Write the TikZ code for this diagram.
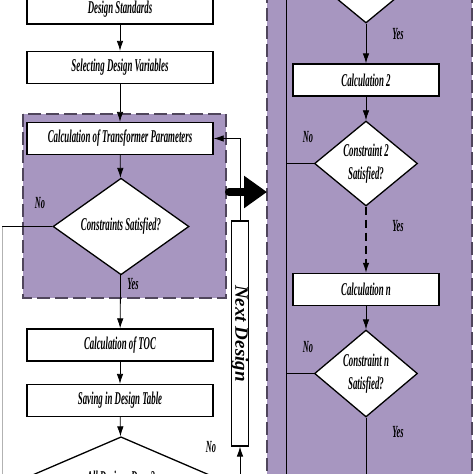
\documentclass[tikz,border=0pt]{standalone}
\usepackage{fontspec}
\setmainfont{Liberation Serif}[FakeStretch=0.49]
\newfontfamily\widefont{Liberation Serif}
\usetikzlibrary{shapes.geometric,arrows.meta,positioning,calc}
\definecolor{regpurple}{RGB}{167,150,192}
\definecolor{regborder}{RGB}{80,70,92}

\tikzset{
  procbox/.style={rectangle, draw, fill=white, line width=1.3pt, minimum width=186pt, minimum height=32pt, inner sep=0pt, font=\fontsize{18}{21}\selectfont\bfseries\itshape},
  check/.style={diamond, draw, fill=white, line width=1.3pt, inner sep=0pt, align=center, font=\fontsize{18}{23}\selectfont\bfseries\itshape},
  flow/.style={-{Latex[length=10pt,width=6.5pt]}, line width=0.8pt},
  lbl/.style={font=\fontsize{17}{20}\selectfont\bfseries\itshape},
  regline/.style={draw=regborder, line width=1.6pt, dash pattern=on 13pt off 5pt}
}

\begin{document}
\begin{tikzpicture}[x=1pt, y=-1pt]
\clip (0,0) rectangle (474,474);
\fill[white] (0,0) rectangle (474,474);

% regioni
\fill[regpurple] (23,114) rectangle (226,298);
\draw[regline] (23,114) rectangle (226,298);
\fill[regpurple] (267,-10) rectangle (472,484);
\draw[regline] (267,-10) -- (267,484) (472,-10) -- (472,484);

% colonna sinistra
\node[procbox, minimum height=30pt] (std) at (120,9) {Design Standards};
\node[procbox] (selvar) at (120,67.5) {Selecting Design Variables};
\node[procbox] (calctp) at (120,138.5) {Calculation of Transformer Parameters};
\node[check, minimum width=136pt, minimum height=87pt] (cons) at (121,226.5) {Constraints Satisfied?};
\node[procbox] (toc) at (120,345) {Calculation of TOC};
\node[procbox] (save) at (120,400.5) {Saving in Design Table};
\node[check, minimum width=196pt, minimum height=82pt] (done) at (121,479) {All Designs Done?};

\draw[flow] (std) -- (selvar);
\draw[flow] (selvar) -- (calctp);
\draw[flow] (calctp) -- (cons);
\draw[flow] (cons) -- (toc);
\draw[flow] (toc) -- (save);
\draw[flow] (save) -- (done);

\node[lbl] (yes0) at (133,284) {Yes};
\node[lbl] (no0) at (40,203) {No};
\node[lbl] (no9) at (211,447) {No};

\coordinate (noleft) at (2,226.5);
\coordinate (nobot) at (2,484);
\draw[line width=1pt] (cons.west) -- (noleft);
\draw[line width=1pt, gray!60] (noleft) -- (nobot);

% prossimo design
\node[draw, fill=white, line width=1.2pt, minimum width=225pt, minimum height=14pt, inner sep=0pt, rotate=-90,
  font=\widefont\fontsize{19}{21}\selectfont\bfseries\itshape] (next) at (240,333.5) {Next Design};
\coordinate (nextin) at (240,484);
\draw[flow] (nextin) -- (next.east);
\draw[flow] (next.west) |- (calctp.east);

\coordinate (bigtail) at (229,192);
\coordinate (bighead) at (267,192);
\draw[line width=8pt, line cap=round, -{Triangle[length=23pt,width=31pt]}] (bigtail) -- (bighead);

% colonna destra
\node[check, minimum width=103pt, minimum height=85pt] (cons1) at (366,-19.5) {};
\node[procbox, minimum width=146pt] (calc2) at (366,80) {Calculation 2};
\node[check, minimum width=103pt, minimum height=85pt] (cons2) at (366,163.5) {Constraint 2\\Satisfied?};
\node[procbox, minimum width=146pt] (calcn) at (366,289.5) {Calculation n};
\node[check, minimum width=103pt, minimum height=87pt] (consn) at (366,373.5) {Constraint n\\Satisfied?};
\coordinate (yesbot) at (366,484);

\draw[flow] (cons1) -- (calc2);
\draw[flow] (calc2) -- (cons2);
\draw[flow, line width=1.2pt, dash pattern=on 8pt off 5pt] (cons2) -- (calcn);
\draw[flow] (calcn) -- (consn);
\draw[line width=0.8pt] (consn) -- (yesbot);

\coordinate (rettop) at (286,-10);
\coordinate (retbot) at (286,484);
\draw[line width=1pt] (rettop) -- (retbot);
\draw[line width=1pt] (cons2.west) -- (cons2.west -| rettop);
\draw[line width=1pt] (consn.west) -- (consn.west -| rettop);

\node[lbl] (yes1) at (398,34) {Yes};
\node[lbl] (no2) at (308,137) {No};
\node[lbl] (yes2) at (398,226) {Yes};
\node[lbl] (non) at (308,347) {No};
\node[lbl] (yesn) at (398,432) {Yes};
\end{tikzpicture}
\end{document}
